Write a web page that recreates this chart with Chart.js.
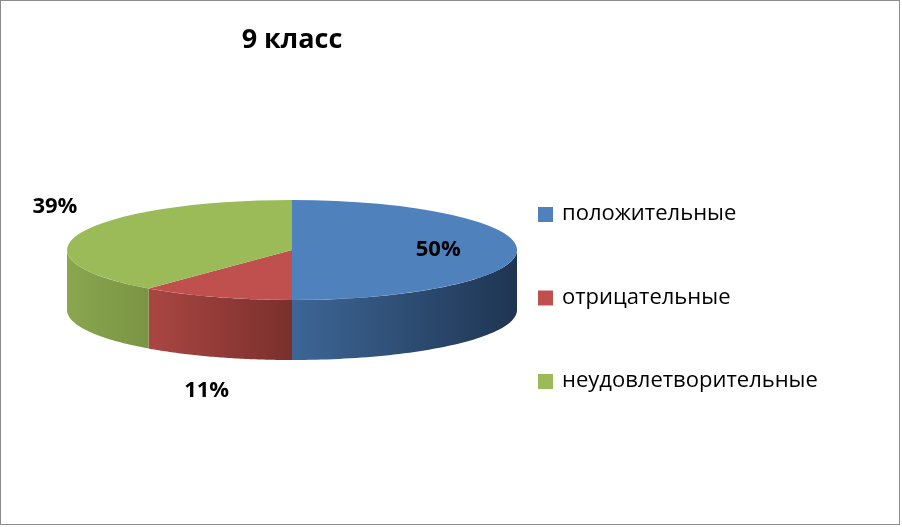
<!DOCTYPE html>
<html>
<head>
<meta charset="utf-8">
<script src="https://cdn.jsdelivr.net/npm/chart.js@4"></script>
<style>
  body { margin: 0; background: #fff; }
  #wrap { width: 902px; height: 527px; position: relative; }
  #frame { position: absolute; left: 0; top: 0; width: 900px; height: 525px; border: 1px solid #8c8c8c; box-sizing: border-box; pointer-events: none; }
</style>
</head>
<body>
<div id="wrap">
  <canvas id="pie" width="902" height="527"></canvas>
  <div id="frame"></div>
</div>
<script>
// данные диаграммы
const categories = ['положительные', 'отрицательные', 'неудовлетворительные'];
const values = [50, 11, 39];
const colors = ['#4F81BD', '#C0504D', '#9BBB59'];
const sideColors = [['#3d6696', '#1f3552'], ['#a94642', '#7a2f2c'], ['#8aa64f', '#7a9444']];

const flatY = 250;   // центр верхней грани
const flatRy = 50;   // вертикальный радиус эллипса
const depth = 60;    // толщина "3D"

const pie3dPlugin = {
    id: 'pie3d',
    beforeDatasetsDraw(chart) {
        const ctx = chart.ctx;
        const meta = chart.getDatasetMeta(0);
        const arc0 = meta.data[0];
        const cx = arc0.x, cy = arc0.y, r = arc0.outerRadius;
        chart._flat = { cx, cy, r };
        ctx.save();
        if (!isFinite(cx) || !isFinite(r) || r <= 0) return;

        // боковые стенки (видимая передняя часть: sin > 0)
        meta.data.forEach((arc, i) => {
            const a = arc.startAngle, b = arc.endAngle;
            const segs = [[a, b], [a - 2 * Math.PI, b - 2 * Math.PI]];
            segs.forEach(([s, e]) => {
                const from = Math.max(s, 0), to = Math.min(e, Math.PI);
                if (to <= from) return;
                const x1 = cx + r * Math.cos(to), x0 = cx + r * Math.cos(from);
                const grad = ctx.createLinearGradient(Math.min(x0, x1), 0, Math.max(x0, x1) + 1, 0);
                grad.addColorStop(0, sideColors[i][0]);
                grad.addColorStop(1, sideColors[i][1]);
                ctx.beginPath();
                const steps = 60;
                for (let k = 0; k <= steps; k++) {
                    const t = from + (to - from) * k / steps;
                    const x = cx + r * Math.cos(t), y = flatY + flatRy * Math.sin(t);
                    k === 0 ? ctx.moveTo(x, y) : ctx.lineTo(x, y);
                }
                for (let k = steps; k >= 0; k--) {
                    const t = from + (to - from) * k / steps;
                    ctx.lineTo(cx + r * Math.cos(t), flatY + flatRy * Math.sin(t) + depth);
                }
                ctx.closePath();
                ctx.fillStyle = grad;
                ctx.fill();
            });
        });

        // сплющиваем верхнюю грань
        ctx.translate(cx, flatY);
        ctx.scale(1, flatRy / r);
        ctx.translate(-cx, -cy);
    },
    afterDatasetsDraw(chart) {
        const ctx = chart.ctx;
        ctx.restore();
        const { cx, r } = chart._flat;
        const meta = chart.getDatasetMeta(0);
        const total = values.reduce((a, b) => a + b, 0);

        // подписи процентов
        ctx.font = 'bold 22px "Open Sans", "DejaVu Sans", sans-serif';
        ctx.fillStyle = '#000';
        ctx.textAlign = 'center';
        ctx.textBaseline = 'middle';
        meta.data.forEach((arc, i) => {
            const mid = (arc.startAngle + arc.endAngle) / 2;
            const k = i === 0 ? 0.65 : 1.12;
            const x = cx + r * k * Math.cos(mid);
            let y = flatY + flatRy * k * Math.sin(mid);
            if (i > 0) y += Math.sin(mid) > 0 ? depth + 28 : -24;
            ctx.fillText(Math.round(values[i] / total * 100) + '%', x, y);
        });

        // легенда
        ctx.font = '22px "Open Sans", "DejaVu Sans", sans-serif';
        ctx.textAlign = 'left';
        categories.forEach((name, i) => {
            const y = 214 + i * 83.5;
            ctx.fillStyle = colors[i];
            ctx.fillRect(538, y - 7, 15, 15);
            ctx.fillStyle = '#000';
            ctx.fillText(name, 562, y);
        });
    }
};

new Chart(document.getElementById('pie'), {
    type: 'pie',
    data: {
        labels: categories,
        datasets: [{
            data: values,
            backgroundColor: colors,
            borderWidth: 0
        }]
    },
    options: {
        responsive: false,
        animation: false,
        events: [],
        layout: { padding: { left: 67, right: 385, top: 0, bottom: 10 } },
        plugins: {
            legend: { display: false },
            tooltip: { enabled: false },
            title: {
                display: true,
                text: '9 класс',
                color: '#000',
                font: { size: 27, weight: 'bold', family: '"Open Sans", "DejaVu Sans", sans-serif' },
                padding: { top: 24, bottom: 0 }
            }
        }
    },
    plugins: [pie3dPlugin]
});
</script>
</body>
</html>
